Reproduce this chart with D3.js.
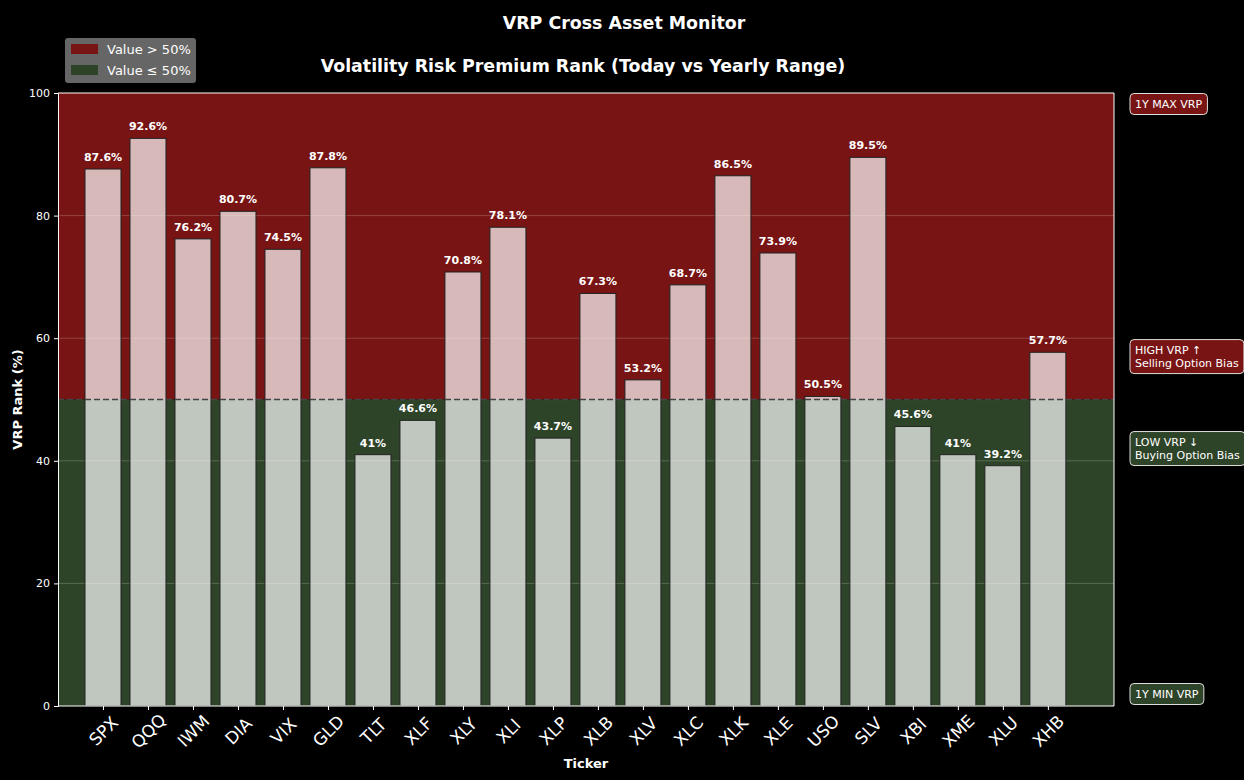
<!DOCTYPE html>
<html>
<head>
<meta charset="utf-8">
<script src="https://cdn.jsdelivr.net/npm/d3@7"></script>
<style>
  body { margin: 0; background: #000; }
  svg { font-family: 'DejaVu Sans', sans-serif; display: block; }
</style>
</head>
<body>
<svg width="1244" height="780"></svg>
<script>
const tickers = ['SPX', 'QQQ', 'IWM', 'DIA', 'VIX', 'GLD', 'TLT', 'XLF', 'XLY', 'XLI', 'XLP',
  'XLB', 'XLV', 'XLC', 'XLK', 'XLE', 'USO', 'SLV', 'XBI', 'XME', 'XLU', 'XHB'];
const vrpRank = [87.6, 92.6, 76.2, 80.7, 74.5, 87.8, 41, 46.6, 70.8, 78.1, 43.7,
  67.3, 53.2, 68.7, 86.5, 73.9, 50.5, 89.5, 45.6, 41, 39.2, 57.7];
const yTicks = [0, 20, 40, 60, 80, 100];
const threshold = 50;

const red = '#781414';
const green = '#2e4429';

const svg = d3.select('svg');
const margin = { top: 93, right: 130, bottom: 74, left: 58 };
const width = 1244, height = 780;
const innerWidth = width - margin.left - margin.right;
const innerHeight = height - margin.top - margin.bottom;

const data = tickers.map((t, i) => ({ ticker: t, value: vrpRank[i], i }));

const xScale = d3.scaleLinear().domain([-1, 22.47]).range([0, innerWidth]);
const yScale = d3.scaleLinear().domain([0, 100]).range([innerHeight, 0]);
const barWidth = (xScale(1) - xScale(0)) * 0.8;

const g = svg.append('g').attr('transform', `translate(${margin.left},${margin.top})`);

// background bands
g.append('rect')
  .attr('x', 0).attr('y', yScale(100))
  .attr('width', innerWidth).attr('height', yScale(threshold) - yScale(100))
  .attr('fill', red);
g.append('rect')
  .attr('x', 0).attr('y', yScale(threshold))
  .attr('width', innerWidth).attr('height', yScale(0) - yScale(threshold))
  .attr('fill', green);

// grid
g.selectAll('.grid').data(yTicks.filter(d => d > 0 && d < 100)).enter().append('line')
  .attr('x1', 0).attr('x2', innerWidth)
  .attr('y1', d => yScale(d)).attr('y2', d => yScale(d))
  .attr('stroke', '#fff').attr('stroke-opacity', 0.2).attr('stroke-width', 1);

// bars
g.selectAll('.bar').data(data).enter().append('rect')
  .attr('x', d => xScale(d.i) - barWidth / 2)
  .attr('y', d => yScale(d.value))
  .attr('width', barWidth)
  .attr('height', d => yScale(0) - yScale(d.value))
  .attr('fill', '#fff').attr('fill-opacity', 0.7)
  .attr('stroke', '#222').attr('stroke-width', 1);

// threshold line
g.append('line')
  .attr('x1', 0).attr('x2', innerWidth)
  .attr('y1', yScale(threshold)).attr('y2', yScale(threshold))
  .attr('stroke', '#444').attr('stroke-width', 1.4).attr('stroke-dasharray', '6,3');

// value labels
g.selectAll('.lbl').data(data).enter().append('text')
  .attr('x', d => xScale(d.i))
  .attr('y', d => yScale(d.value) - 8)
  .attr('text-anchor', 'middle')
  .attr('fill', '#fff').attr('font-size', 11).attr('font-weight', 'bold')
  .text(d => d.value + '%');

// y axis
const yAxis = g.append('g').call(d3.axisLeft(yScale).tickValues(yTicks).tickSize(4).tickPadding(4));
yAxis.select('.domain').attr('stroke', '#fff');
yAxis.selectAll('.tick line').attr('stroke', '#fff');
yAxis.selectAll('.tick text').attr('fill', '#fff').attr('font-size', 11)
  .attr('font-family', 'DejaVu Sans');

// x axis
const xAxis = g.append('g').attr('transform', `translate(0,${innerHeight})`)
  .call(d3.axisBottom(xScale).tickValues(d3.range(tickers.length)).tickFormat(i => tickers[i]).tickSize(4));
xAxis.select('.domain').attr('stroke', '#fff').attr('d', `M0,0H${innerWidth}`);
xAxis.selectAll('.tick line').attr('stroke', '#fff');
xAxis.selectAll('.tick text')
  .attr('fill', '#fff').attr('font-size', 17).attr('font-family', 'DejaVu Sans')
  .attr('text-anchor', 'middle').attr('dy', '0.35em').attr('y', 0)
  .attr('transform', 'translate(0,25) rotate(-45)');

// top frame + right spine
g.append('line').attr('x1', 0).attr('x2', innerWidth).attr('y1', 0).attr('y2', 0)
  .attr('stroke', '#fff');
g.append('line').attr('x1', innerWidth).attr('x2', innerWidth).attr('y1', 0).attr('y2', innerHeight)
  .attr('stroke', '#fff');

// axis labels
svg.append('text').attr('x', margin.left + innerWidth / 2).attr('y', 768)
  .attr('text-anchor', 'middle').attr('fill', '#fff')
  .attr('font-size', 13).attr('font-weight', 'bold').text('Ticker');
svg.append('text')
  .attr('transform', `translate(22,${margin.top + innerHeight / 2}) rotate(-90)`)
  .attr('text-anchor', 'middle').attr('fill', '#fff')
  .attr('font-size', 13).attr('font-weight', 'bold').text('VRP Rank (%)');

// titles
svg.append('text').attr('x', 624).attr('y', 29).attr('text-anchor', 'middle')
  .attr('fill', '#fff').attr('font-size', 17.4).attr('font-weight', 'bold')
  .text('VRP Cross Asset Monitor');
svg.append('text').attr('x', margin.left + innerWidth / 2 - 3).attr('y', 72).attr('text-anchor', 'middle')
  .attr('fill', '#fff').attr('font-size', 17.4).attr('font-weight', 'bold')
  .text('Volatility Risk Premium Rank (Today vs Yearly Range)');

// legend
const legend = svg.append('g').attr('transform', 'translate(65,38)');
legend.append('rect').attr('width', 131).attr('height', 45).attr('rx', 3)
  .attr('fill', '#666');
[{ c: red, t: 'Value > 50%' }, { c: green, t: 'Value \u2264 50%' }].forEach((d, k) => {
  legend.append('rect').attr('x', 6).attr('y', 6 + k * 21).attr('width', 27).attr('height', 10)
    .attr('fill', d.c);
  legend.append('text').attr('x', 42).attr('y', 16 + k * 21)
    .attr('fill', '#fff').attr('font-size', 13).text(d.t);
});

// right annotations
const notes = [
  { y: 100, lines: ['1Y MAX VRP'], c: red },
  { y: 57, lines: ['HIGH VRP \u2191', 'Selling Option Bias'], c: red },
  { y: 42, lines: ['LOW VRP \u2193', 'Buying Option Bias'], c: green },
  { y: 0, lines: ['1Y MIN VRP'], c: green }
];
notes.forEach(n => {
  const lineH = 13;
  const ng = svg.append('g');
  const tx = ng.append('text').attr('fill', '#fff').attr('font-size', 11);
  n.lines.forEach((l, k) => {
    tx.append('tspan').attr('x', 1135).attr('y', k * lineH).text(l);
  });
  const bb = tx.node().getBBox();
  let cy = margin.top + yScale(n.y);
  if (n.y === 100) cy += 11;
  if (n.y === 0) cy -= 12;
  const off = cy - (bb.y + bb.height / 2);
  tx.attr('transform', `translate(0,${off})`);
  ng.insert('rect', 'text')
    .attr('x', bb.x - 5).attr('y', bb.y + off - 4)
    .attr('width', bb.width + 10).attr('height', bb.height + 8)
    .attr('rx', 4).attr('fill', n.c).attr('stroke', '#ddd').attr('stroke-width', 1);
});
</script>
</body>
</html>
